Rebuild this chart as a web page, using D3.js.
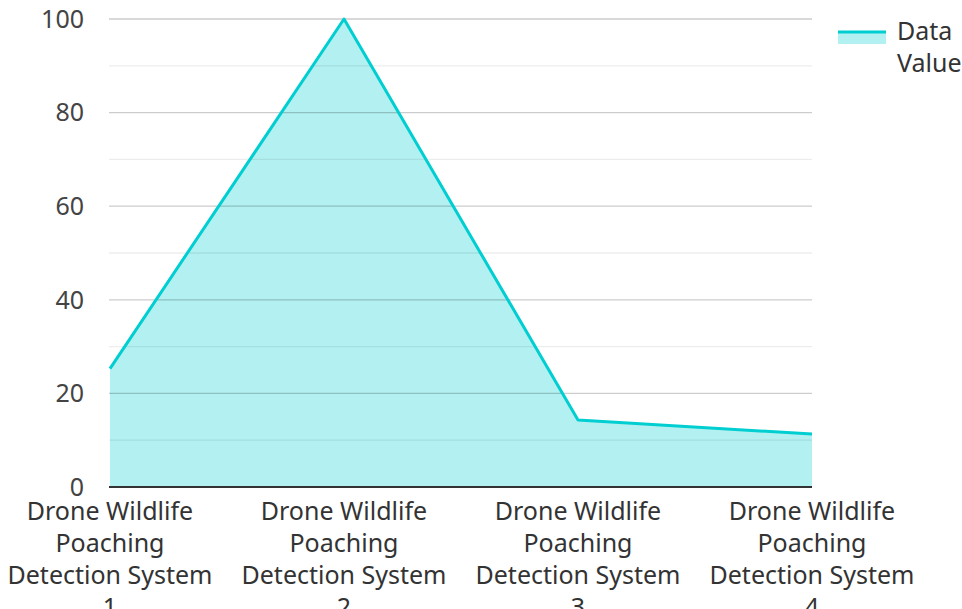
<!DOCTYPE html>
<html>
<head>
<meta charset="utf-8">
<script src="https://cdn.jsdelivr.net/npm/d3@7"></script>
<style>
  body { margin: 0; background: #fff; }
  svg text { font-family: "Noto Sans", sans-serif; }
</style>
</head>
<body>
<div id="chart"></div>
<script>
const categories = [
  "Drone Wildlife Poaching Detection System 1",
  "Drone Wildlife Poaching Detection System 2",
  "Drone Wildlife Poaching Detection System 3",
  "Drone Wildlife Poaching Detection System 4"
];
const values = [25.3, 100, 14.3, 11.3];
const majorTicks = [0, 20, 40, 60, 80, 100];
const minorTicks = [10, 30, 50, 70, 90];
const seriesName = "Data Value";

const width = 962, height = 609;
const marginLeft = 110, marginRight = 150, marginTop = 19, marginBottom = 122;
const lineColor = "#00ced1";
const fontSize = "25px";

const svg = d3.select("#chart").append("svg")
  .attr("width", width).attr("height", height);

const x = d3.scalePoint(categories, [marginLeft, width - marginRight]);
const y = d3.scaleLinear([0, 100], [height - marginBottom, marginTop]);

// area first, grid drawn on top like the original
svg.append("path")
  .datum(values)
  .attr("fill", lineColor)
  .attr("fill-opacity", 0.3)
  .attr("d", d3.area()
    .x((d, i) => x(categories[i]))
    .y0(y(0))
    .y1(d => y(d)));

const grid = svg.append("g");
grid.selectAll(".minor").data(minorTicks).join("line")
  .attr("x1", marginLeft - 1).attr("x2", width - marginRight)
  .attr("y1", d => y(d)).attr("y2", d => y(d))
  .attr("stroke", "#000").attr("stroke-opacity", 0.07).attr("stroke-width", 1.3);
grid.selectAll(".major").data(majorTicks.slice(1)).join("line")
  .attr("x1", marginLeft - 1).attr("x2", width - marginRight)
  .attr("y1", d => y(d)).attr("y2", d => y(d))
  .attr("stroke", "#000").attr("stroke-opacity", 0.2).attr("stroke-width", 1.3);

svg.append("path")
  .datum(values)
  .attr("fill", "none")
  .attr("stroke", lineColor)
  .attr("stroke-width", 3)
  .attr("stroke-linejoin", "round")
  .attr("d", d3.line()
    .x((d, i) => x(categories[i]))
    .y(d => y(d)));

// x axis baseline
svg.append("line")
  .attr("x1", marginLeft - 1).attr("x2", width - marginRight)
  .attr("y1", y(0)).attr("y2", y(0))
  .attr("stroke", "#333").attr("stroke-width", 2);

// y tick labels
svg.append("g").selectAll("text").data(majorTicks).join("text")
  .attr("x", 84).attr("y", d => y(d))
  .attr("dy", "0.35em")
  .attr("text-anchor", "end")
  .attr("fill", "#444")
  .style("font-size", fontSize)
  .text(d => d);

// x tick labels, wrapped
const wrapLines = ["Drone Wildlife", "Poaching", "Detection System"];
svg.append("g").selectAll("text").data(categories).join("text")
  .attr("text-anchor", "middle")
  .attr("fill", "#333")
  .style("font-size", fontSize)
  .each(function (d, i) {
    const t = d3.select(this);
    const lines = wrapLines.concat([String(i + 1)]);
    lines.forEach((ln, k) => {
      t.append("tspan")
        .attr("x", x(d))
        .attr("y", 520 + k * 32)
        .text(ln);
    });
  });

// legend
const lg = svg.append("g");
lg.append("rect")
  .attr("x", 838).attr("y", 32).attr("width", 48).attr("height", 12)
  .attr("fill", lineColor).attr("fill-opacity", 0.3);
lg.append("line")
  .attr("x1", 838).attr("x2", 886).attr("y1", 32).attr("y2", 32)
  .attr("stroke", lineColor).attr("stroke-width", 3);
lg.append("text")
  .attr("fill", "#333")
  .style("font-size", fontSize)
  .selectAll("tspan").data(seriesName.split(" ")).join("tspan")
  .attr("x", 897).attr("y", (d, i) => 40 + i * 32)
  .text(d => d);
</script>
</body>
</html>
